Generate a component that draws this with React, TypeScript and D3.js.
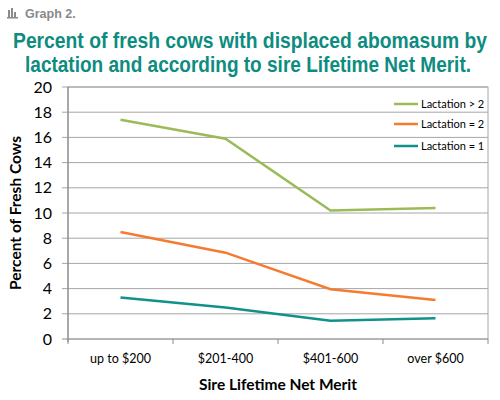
import * as d3 from 'd3';

// Categories and series values
const CATEGORIES = ['up to $200', '$201-400', '$401-600', 'over $600'];
const LACT_GT2 = [17.4, 15.9, 10.2, 10.4];
const LACT_EQ2 = [8.5, 6.85, 3.95, 3.1];
const LACT_EQ1 = [3.3, 2.5, 1.45, 1.65];
const Y_TICKS = [0, 2, 4, 6, 8, 10, 12, 14, 16, 18, 20];

const SERIES = [
  { name: 'Lactation > 2', values: LACT_GT2, color: '#9bbb59' },
  { name: 'Lactation = 2', values: LACT_EQ2, color: '#f47b30' },
  { name: 'Lactation = 1', values: LACT_EQ1, color: '#12918c' },
];

export default function App() {
  const W = 500, H = 400;
  const padL = 68, padR = 12, padT = 87, padB = 61;
  const plotW = W - padL - padR, plotH = H - padT - padB;

  const x = d3.scaleBand<string>().domain(CATEGORIES).range([padL, padL + plotW]);
  const y = d3.scaleLinear().domain([0, 20]).range([padT + plotH, padT]);

  const line = d3.line<number>()
    .x((_, i) => (x(CATEGORIES[i]) ?? 0) + x.bandwidth() / 2)
    .y((d) => y(d));

  const tickFont = 'Lato, "Open Sans", sans-serif';
  const titleFont = '"Liberation Sans", Arial, sans-serif';

  return (
    <svg width={W} height={H} style={{ position: 'absolute', left: 0, top: 0, background: '#fff' }}>
      {/* Header */}
      <g fill="#8a8a8a">
        {[0, 1, 2].map((i) => (
          <rect key={i} x={8 + i * 3} y={[10, 8, 12][i]} width={2} height={[7, 9, 5][i]} />
        ))}
        <rect x={7} y={17} width={11} height={1.5} />
      </g>
      <text x={25} y={18} fontFamily={titleFont} fontWeight="bold" fontSize={12.5} fill="#8a8a8a">
        Graph 2.
      </text>
      <g fontFamily={titleFont} fontWeight="bold" fontSize={19} fill="#0e8c80" textAnchor="middle">
        <text transform="translate(250,48) scale(1,1.16)" textLength={474} lengthAdjust="spacingAndGlyphs">
          Percent of fresh cows with displaced abomasum by
        </text>
        <text transform="translate(248,72) scale(1,1.16)" textLength={446} lengthAdjust="spacingAndGlyphs">
          lactation and according to sire Lifetime Net Merit.
        </text>
      </g>

      {/* Grid */}
      {Y_TICKS.map((v) => (
        <line key={v} x1={padL - 6} x2={padL + plotW} y1={y(v)} y2={y(v)}
          stroke={v === 0 ? '#8c8c8c' : '#a6a6a6'} strokeWidth={1} />
      ))}
      <rect x={padL} y={padT} width={plotW} height={plotH} fill="none" stroke="#a6a6a6" strokeWidth={1} />
      <line x1={padL} x2={padL} y1={padT} y2={padT + plotH + 3} stroke="#8c8c8c" strokeWidth={1.2} />

      {/* X ticks */}
      {[...CATEGORIES.map((c) => x(c) ?? 0), padL + plotW].map((xv, i) => (
        <line key={i} x1={xv} x2={xv} y1={padT + plotH} y2={padT + plotH + 5} stroke="#8c8c8c" />
      ))}

      {/* Y tick labels */}
      {Y_TICKS.map((v) => (
        <text key={v} x={52} y={y(v) + 5.5} textAnchor="end" fontFamily={tickFont} fontSize={16} fill="#000">
          {v}
        </text>
      ))}

      {/* X tick labels */}
      {CATEGORIES.map((c) => (
        <text key={c} x={(x(c) ?? 0) + x.bandwidth() / 2} y={363} textAnchor="middle" fontFamily={tickFont} fontSize={12.5} fill="#000">
          {c}
        </text>
      ))}

      {/* Axis titles */}
      <text x={278} y={390} textAnchor="middle" fontFamily={tickFont} fontWeight="bold" fontSize={15.5} fill="#000">
        Sire Lifetime Net Merit
      </text>
      <text transform="translate(21,213) rotate(-90)" textAnchor="middle" fontFamily={tickFont} fontWeight="bold" fontSize={15.5} fill="#000">
        Percent of Fresh Cows
      </text>

      {/* Lines */}
      {SERIES.map((s) => (
        <path key={s.name} d={line(s.values) ?? ''} fill="none" stroke={s.color} strokeWidth={2.5} />
      ))}

      {/* Legend */}
      {SERIES.map((s, i) => {
        const ly = [104, 124, 146][i];
        return (
          <g key={s.name}>
            <line x1={394} x2={418} y1={ly} y2={ly} stroke={s.color} strokeWidth={2.5} />
            <text x={421} y={ly + 4} fontFamily={tickFont} fontSize={11} fill="#000">{s.name}</text>
          </g>
        );
      })}
    </svg>
  );
}
